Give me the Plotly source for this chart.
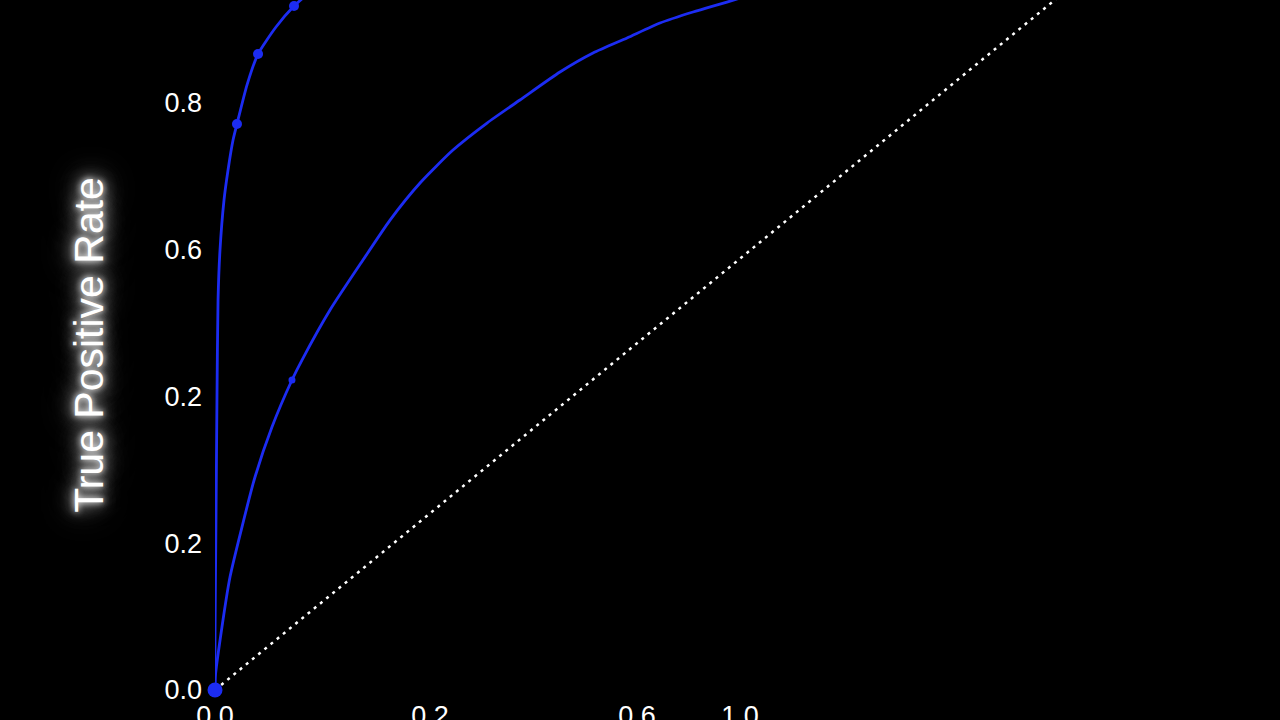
import plotly.graph_objects as go

# ROC curves (false positive rate, true positive rate)
strong_fpr = [0.0, 0.0, 0.0011, 0.0022, 0.0034, 0.0056, 0.0101, 0.0146, 0.0202, 0.0246,
              0.0358, 0.0482, 0.0683, 0.0885, 0.1064]
strong_tpr = [0.0, 0.0681, 0.2317, 0.3952, 0.5315, 0.5997, 0.6678, 0.7087, 0.7496, 0.7714,
              0.8245, 0.8668, 0.9036, 0.9322, 0.9513]
strong_mark_fpr = [0.0246, 0.0482, 0.0885]
strong_mark_tpr = [0.7714, 0.8668, 0.9322]

weak_fpr = [0.0, 0.0003, 0.0078, 0.0168, 0.0302, 0.0448, 0.0638, 0.0862, 0.0974, 0.1288,
            0.1657, 0.1960, 0.2296, 0.2665, 0.3046, 0.3415, 0.3863, 0.4233, 0.4614, 0.4983,
            0.5353, 0.5733, 0.6103]
weak_tpr = [0.0, 0.0177, 0.0859, 0.1540, 0.2221, 0.2903, 0.3584, 0.4225, 0.4497, 0.5179,
            0.5860, 0.6405, 0.6910, 0.7359, 0.7727, 0.8041, 0.8422, 0.8681, 0.8886, 0.9090,
            0.9240, 0.9376, 0.9513]
weak_mark_fpr = [0.0862]
weak_mark_tpr = [0.4225]

chance_fpr = [0.0, 1.0]
chance_tpr = [0.0, 1.0]

# tick labels as printed in the picture
x_tick_vals = [0.0, 0.2408, 0.4726, 0.5879]
x_tick_text = ['0.0', '0.2', '0.6', '1.0']
y_tick_vals = [0.0, 0.2, 0.4, 0.6, 0.8]
y_tick_text = ['0.0', '0.2', '0.2', '0.6', '0.8']

blue = '#1c2cf2'
tick_font = dict(family='Liberation Sans', size=27, color='white')

fig = go.Figure()

# chance diagonal
fig.add_trace(go.Scatter(x=chance_fpr, y=chance_tpr, mode='lines',
                         line=dict(color='white', width=2.5, dash='3px,5px'),
                         showlegend=False, hoverinfo='skip'))

fig.add_trace(go.Scatter(x=weak_fpr, y=weak_tpr, mode='lines',
                         line=dict(color=blue, width=2.8, shape='spline', smoothing=0.6),
                         showlegend=False))
fig.add_trace(go.Scatter(x=weak_mark_fpr, y=weak_mark_tpr, mode='markers',
                         marker=dict(color=blue, size=7), showlegend=False))

fig.add_trace(go.Scatter(x=strong_fpr, y=strong_tpr, mode='lines',
                         line=dict(color=blue, width=2.8, shape='spline', smoothing=0.6),
                         showlegend=False))
fig.add_trace(go.Scatter(x=strong_mark_fpr, y=strong_mark_tpr, mode='markers',
                         marker=dict(color=blue, size=10), showlegend=False))

# big dot at the origin
fig.add_trace(go.Scatter(x=[0.0], y=[0.0], mode='markers',
                         marker=dict(color=blue, size=15), cliponaxis=False,
                         showlegend=False))

fig.update_xaxes(range=[0, 1.1926], tickvals=x_tick_vals, ticktext=x_tick_text,
                 showgrid=False, zeroline=False, showline=False, ticks='',
                 automargin=False, ticklabelstandoff=7, tickfont=tick_font)
fig.update_yaxes(range=[0, 0.9404], tickvals=y_tick_vals, ticktext=y_tick_text,
                 showgrid=False, zeroline=False, showline=False, ticks='',
                 automargin=False, ticklabelstandoff=12, tickfont=tick_font,
                 title=dict(text='True Positive Rate', standoff=48,
                            font=dict(family='Liberation Sans', size=41, color='white',
                                      shadow='0 0 6px #ffffff, 0 0 14px #cccccc, '
                                             '0 0 24px #999999, 0 0 36px #777777, '
                                             '0 0 48px #555555')))

fig.update_layout(width=1280, height=720,
                  paper_bgcolor='black', plot_bgcolor='black',
                  margin=dict(l=215, r=0, t=0, b=30))

fig.write_html("out.html", config={'displayModeBar': False},
               post_script="document.body.style.margin='0';"
                           "document.body.style.background='black';")
